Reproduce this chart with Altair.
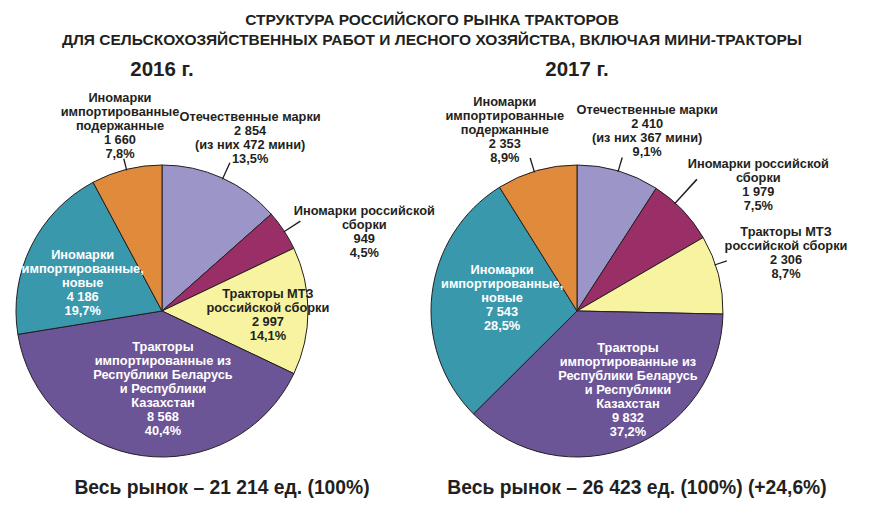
import math
import altair as alt
import pandas as pd

# ---------------- data ----------------
years = ["2016", "2017"]
year_labels = ["2016 г.", "2017 г."]
categories = [
    "Отечественные марки",
    "Иномарки российской сборки",
    "Тракторы МТЗ российской сборки",
    "Тракторы импортированные из Республики Беларусь и Республики Казахстан",
    "Иномарки импортированные, новые",
    "Иномарки импортированные подержанные",
]
values_2016 = [2854, 949, 2997, 8568, 4186, 1660]
values_2017 = [2410, 1979, 2306, 9832, 7543, 2353]
value_text_2016 = ["2 854", "949", "2 997", "8 568", "4 186", "1 660"]
value_text_2017 = ["2 410", "1 979", "2 306", "9 832", "7 543", "2 353"]
pct_2016 = ["13,5%", "4,5%", "14,1%", "40,4%", "19,7%", "7,8%"]
pct_2017 = ["9,1%", "7,5%", "8,7%", "37,2%", "28,5%", "8,9%"]
notes_2016 = ["(из них 472 мини)", "", "", "", "", ""]
notes_2017 = ["(из них 367 мини)", "", "", "", "", ""]
name_lines = [
    ["Отечественные марки"],
    ["Иномарки российской", "сборки"],
    ["Тракторы МТЗ", "российской сборки"],
    ["Тракторы", "импортированные из", "Республики Беларусь", "и Республики", "Казахстан"],
    ["Иномарки", "импортированные,", "новые"],
    ["Иномарки", "импортированные", "подержанные"],
]
totals_text = ["Весь рынок – 21 214 ед. (100%)", "Весь рынок – 26 423 ед. (100%) (+24,6%)"]
title_lines = [
    "СТРУКТУРА РОССИЙСКОГО РЫНКА ТРАКТОРОВ",
    "ДЛЯ СЕЛЬСКОХОЗЯЙСТВЕННЫХ РАБОТ И ЛЕСНОГО ХОЗЯЙСТВА, ВКЛЮЧАЯ МИНИ-ТРАКТОРЫ",
]

# ---------------- layout (label placement, not data) ----------------
# angular nudge (deg, from slice middle) and distance (px) of the centre of each label block
label_off_2016 = [2.8, 12.3, 2.2, -8.8, -7.1, 1.3]
label_r_2016 = [194, 217, 106, 78, 84, 190]
label_off_2017 = [4.9, 8.8, -1.1, -11.0, 3.2, -5.7]
label_r_2017 = [193, 221, 217, 94, 76, 195]
# leader lines: angular nudge (deg) and outer end (px); 0 = no leader
lead_off_2016 = [0.4, 0.5, 0, 0, 0, 0]
lead_r_2016 = [163, 165, 0, 0, 0, 157]
lead_off_2017 = [0, -4, -4, 0, 0, -1]
lead_r_2017 = [160, 178, 158, 0, 0, 160]

colors = ["#9b95c8", "#9a2f68", "#f7f3a0", "#6c5597", "#3a98ad", "#e08a3c"]
PIE_R = 146
CX = [154, 569]
CY = 303
LH = 14

rows = []
sets = [
    (years[0], values_2016, value_text_2016, pct_2016, notes_2016, label_off_2016, label_r_2016, lead_off_2016, lead_r_2016),
    (years[1], values_2017, value_text_2017, pct_2017, notes_2017, label_off_2017, label_r_2017, lead_off_2017, lead_r_2017),
]
for yr, vals, vtx, pcts, notes, loff, lr, ldo, ldr in sets:
    for i, cat in enumerate(categories):
        lines = list(name_lines[i]) + [vtx[i]] + ([notes[i]] if notes[i] else []) + [pcts[i]]
        rows.append(dict(year=yr, category=cat, order=i, value=vals[i], label="\n".join(lines),
                         nlines=len(lines), loff=loff[i], lr=lr[i], lead_off=ldo[i], lead_r=ldr[i]))
df = pd.DataFrame(rows)

base = (
    alt.Chart(df)
    .transform_joinaggregate(total="sum(value)", groupby=["year"])
    .transform_window(cum="sum(value)", groupby=["year"], sort=[alt.SortField("order", order="ascending")], frame=[None, 0])
    .transform_calculate(
        start="(datum.cum - datum.value) / datum.total",
        end="datum.cum / datum.total",
        mid="(datum.cum - datum.value / 2) / datum.total",
    )
)

xenc = alt.X("year:N", scale=alt.Scale(type="point", domain=years, range=CX, padding=0), axis=None)
theta_scale = alt.Scale(domain=[0, 1], range=[0, 2 * math.pi])

pies = base.mark_arc(outerRadius=PIE_R, stroke="#231f20", strokeWidth=1).encode(
    x=xenc,
    y=alt.value(CY),
    theta=alt.Theta("start:Q", scale=theta_scale),
    theta2="end:Q",
    color=alt.Color("category:N", scale=alt.Scale(domain=categories, range=colors), legend=None),
)

leaders = (
    base.transform_filter("datum.lead_r > 0")
    .transform_calculate(a0="datum.mid + datum.lead_off / 360 - 0.0007",
                         a1="datum.mid + datum.lead_off / 360 + 0.0007")
    .mark_arc(color="#231f20")
    .encode(
        x=xenc,
        y=alt.value(CY),
        theta=alt.Theta("a0:Q", scale=theta_scale),
        theta2="a1:Q",
        radius=alt.Radius("lead_r:Q", scale=None),
        radius2=alt.value(PIE_R - 1),
    )
)

LABEL_FONT = "Liberation Sans, Arial, sans-serif"
# text blocks are anchored at their first line: move the anchor up by half the block height
labels = (
    base.transform_calculate(
        ang="2 * PI * datum.mid + datum.loff * PI / 180",
    )
    .transform_calculate(
        bx="datum.lr * sin(datum.ang)",
        by=f"-datum.lr * cos(datum.ang) - (datum.nlines - 1) * {LH} / 2",
    )
    .transform_calculate(
        r1="sqrt(datum.bx * datum.bx + datum.by * datum.by)",
        t1="atan2(datum.bx, -datum.by) / (2 * PI)",
    )
    .mark_text(font=LABEL_FONT, fontSize=12.8, fontWeight="bold", lineBreak="\n", lineHeight=LH,
               align="center", baseline="middle")
    .encode(
        x=xenc,
        y=alt.value(CY),
        theta=alt.Theta("t1:Q", scale=theta_scale),
        radius=alt.Radius("r1:Q", scale=None),
        text="label:N",
        color=alt.condition("datum.order == 3 || datum.order == 4", alt.value("#ffffff"), alt.value("#231f20")),
    )
)

ydf = pd.DataFrame({"year": years, "ylabel": year_labels, "total": totals_text})
year_text = alt.Chart(ydf).mark_text(font=LABEL_FONT, fontSize=20.5, fontWeight="bold", color="#231f20",
                                     align="center", baseline="middle").encode(
    x=xenc, y=alt.value(62), text="ylabel:N")
total_text = alt.Chart(ydf).mark_text(font=LABEL_FONT, fontSize=19.3, fontWeight="bold", color="#231f20",
                                      align="center", baseline="middle", dx=60).encode(
    x=xenc, y=alt.value(480), text="total:N")

tdf = pd.DataFrame({"line": title_lines, "row": [0, 1]})
title_text = alt.Chart(tdf).mark_text(font=LABEL_FONT, fontSize=15.5, fontWeight="bold", color="#231f20",
                                      align="center", baseline="middle").encode(
    x=alt.value(424),
    y=alt.Y("row:O", scale=alt.Scale(type="point", domain=[0, 1], range=[12, 32], padding=0), axis=None),
    text="line:N",
)

chart = (
    alt.layer(pies, leaders, labels, year_text, total_text, title_text)
    .properties(width=874, height=504, autosize=alt.AutoSizeParams(type="none"), padding=0, background="white")
    .configure_view(stroke=None)
)

chart.save("out.html", embed_options={"renderer": "svg", "actions": False})
